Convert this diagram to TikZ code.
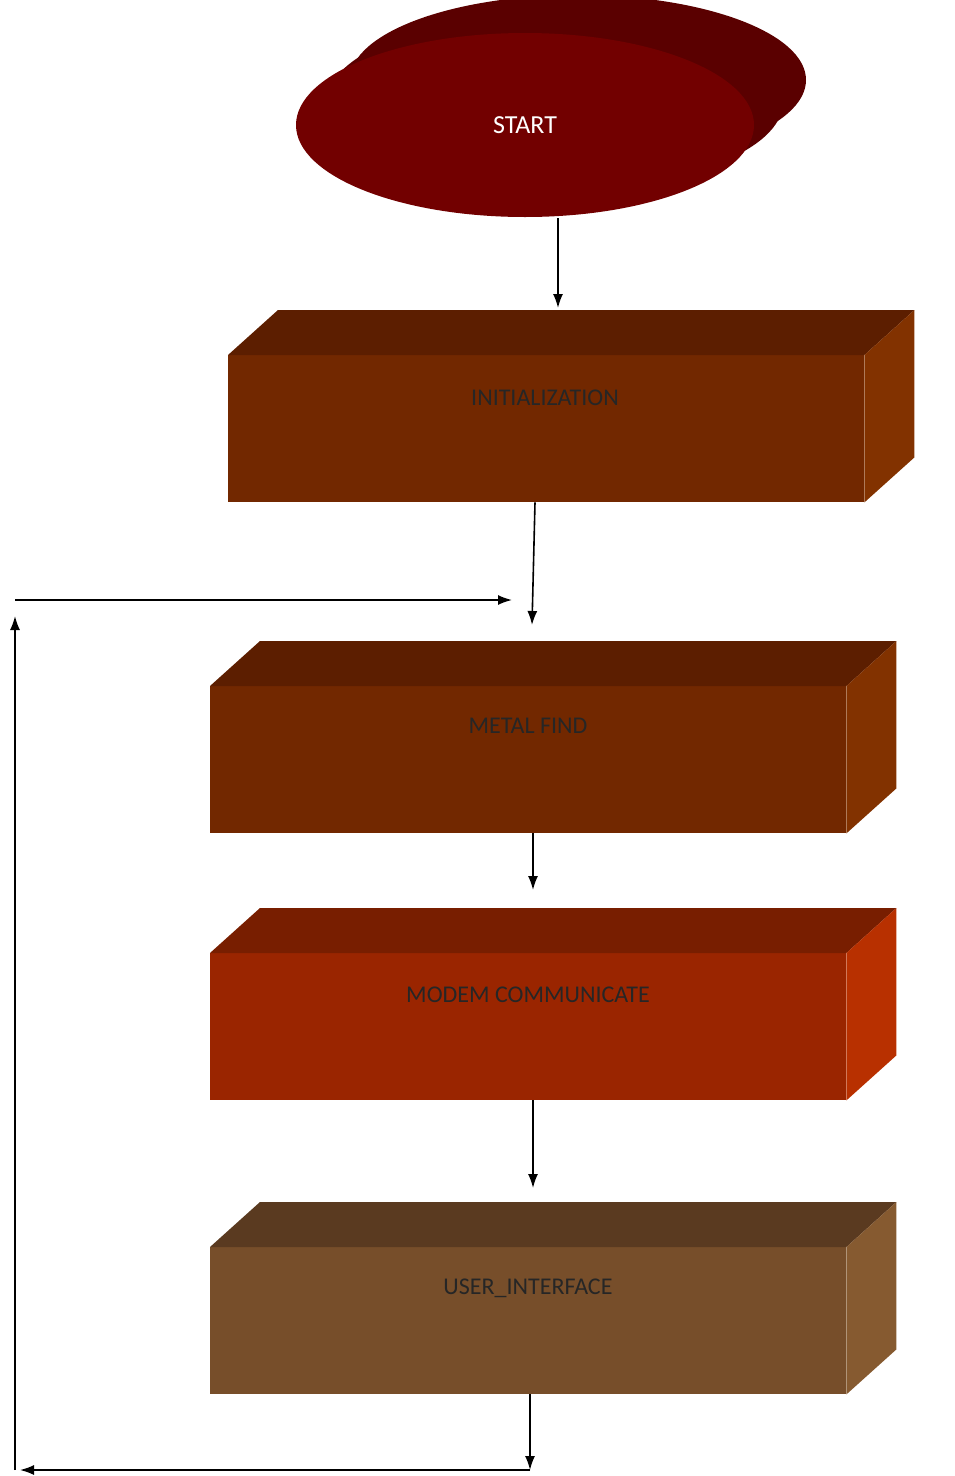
\documentclass[tikz,border=0pt]{standalone}
\usepackage{fontspec}
\setmainfont{Carlito}
\usetikzlibrary{shapes.geometric,arrows.meta}
\definecolor{ellF}{HTML}{720000}\definecolor{ellB}{HTML}{5A0000}
\definecolor{brF}{HTML}{722800}\definecolor{brT}{HTML}{5C1E00}\definecolor{brS}{HTML}{823200}
\definecolor{mdF}{HTML}{9A2500}\definecolor{mdT}{HTML}{781E00}\definecolor{mdS}{HTML}{B83000}
\definecolor{usF}{HTML}{774E2A}\definecolor{usT}{HTML}{5A3A20}\definecolor{usS}{HTML}{865A30}
\tikzset{
  face/.style={draw=none,minimum width=636pt,minimum height=147pt,inner sep=0pt,font=\fontsize{24}{28}\selectfont,text=black!85,text depth=0pt,anchor=north west},
  arr/.style={-{Latex[length=14pt,width=10pt]},line width=1.6pt,black}
}
\newcommand{\boxthreed}[4]{% name, front, top, side
  \fill[#3] (#1.north west) -- ++(50pt,45pt) -- ([xshift=50pt,yshift=45pt]#1.north east) -- (#1.north east) -- cycle;
  \fill[#4] (#1.north east) -- ++(50pt,45pt) -- ([xshift=50pt,yshift=45pt]#1.south east) -- (#1.south east) -- cycle;
}
\begin{document}
\begin{tikzpicture}[x=1pt,y=-1pt]
\useasboundingbox (0,0) rectangle (955,1476);
% start
\fill[ellB] (578,80) ellipse [x radius=228pt, y radius=85pt];
\fill[ellB] (555,102) ellipse [x radius=228pt, y radius=88pt];
\node[ellipse,fill=ellF,minimum width=458pt,minimum height=184pt,text=white,font=\fontsize{26}{30}\selectfont] (start) at (525,125) {START};
% boxes
\node[face,fill=brF] (init) at (228,355) {};
\boxthreed{init}{brF}{brT}{brS}
\node[font=\fontsize{24}{28}\selectfont,text=black!85] at (545,398) {INITIALIZATION};
\node[face,fill=brF] (metal) at (210,686) {};
\boxthreed{metal}{brF}{brT}{brS}
\node[font=\fontsize{24}{28}\selectfont,text=black!85] at (528,726) {METAL FIND};
\node[face,fill=mdF] (modem) at (210,953) {};
\boxthreed{modem}{mdF}{mdT}{mdS}
\node[font=\fontsize{24}{28}\selectfont,text=black!85] at (528,995) {MODEM COMMUNICATE};
\node[face,fill=usF] (user) at (210,1247) {};
\boxthreed{user}{usF}{usT}{usS}
\node[font=\fontsize{24}{28}\selectfont,text=black!85] at (528,1288) {USER\_INTERFACE};
% connectors
\coordinate (loopA) at (15,600);
\coordinate (loopB) at (512,600);
\coordinate (loopC) at (15,1470);
\coordinate (loopD) at (530,1470);
\coordinate (loopE) at (20,1470);
\coordinate (loopF) at (15,616);
\draw[arr] (558,218) -- (558,308);
\draw[arr] (init.south -| 535,0) -- (532,625);
\draw[arr] (loopA) -- (loopB);
\draw[arr] (loopC) -- (loopF);
\draw[arr] (metal.south -| 533,0) -- (533,890);
\draw[arr] (modem.south -| 533,0) -- (533,1188);
\draw[arr] (user.south -| 530,0) -- (loopD);
\draw[arr] (loopD) -- (loopE);
\end{tikzpicture}
\end{document}
